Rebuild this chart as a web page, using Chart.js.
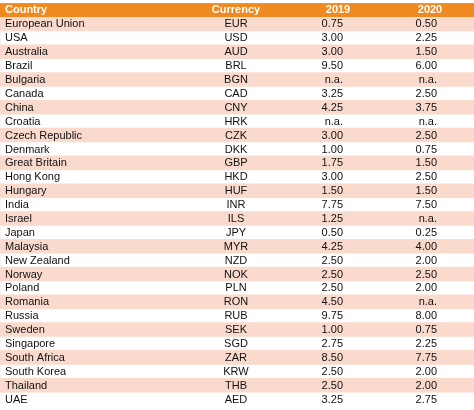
<!DOCTYPE html>
<html>
<head>
<meta charset="utf-8">
<script src="https://cdn.jsdelivr.net/npm/chart.js@4/dist/chart.umd.min.js"></script>
<style>
  html, body { margin: 0; padding: 0; background: #fff; }
  #wrap { width: 474px; height: 410px; }
</style>
</head>
<body>
<div id="wrap"><canvas id="tableChart"></canvas></div>
<script>
const headers = ['Country', 'Currency', '2019', '2020'];
const countries = ['European Union', 'USA', 'Australia', 'Brazil', 'Bulgaria', 'Canada', 'China', 'Croatia',
  'Czech Republic', 'Denmark', 'Great Britain', 'Hong Kong', 'Hungary', 'India', 'Israel', 'Japan',
  'Malaysia', 'New Zealand', 'Norway', 'Poland', 'Romania', 'Russia', 'Sweden', 'Singapore',
  'South Africa', 'South Korea', 'Thailand', 'UAE'];
const currencies = ['EUR', 'USD', 'AUD', 'BRL', 'BGN', 'CAD', 'CNY', 'HRK', 'CZK', 'DKK', 'GBP', 'HKD',
  'HUF', 'INR', 'ILS', 'JPY', 'MYR', 'NZD', 'NOK', 'PLN', 'RON', 'RUB', 'SEK', 'SGD', 'ZAR', 'KRW', 'THB', 'AED'];
const values2019 = ['0.75', '3.00', '3.00', '9.50', 'n.a.', '3.25', '4.25', 'n.a.', '3.00', '1.00', '1.75', '3.00',
  '1.50', '7.75', '1.25', '0.50', '4.25', '2.50', '2.50', '2.50', '4.50', '9.75', '1.00', '2.75', '8.50', '2.50', '2.50', '3.25'];
const values2020 = ['0.50', '2.25', '1.50', '6.00', 'n.a.', '2.50', '3.75', 'n.a.', '2.50', '0.75', '1.50', '2.50',
  '1.50', '7.50', 'n.a.', '0.25', '4.00', '2.00', '2.50', '2.00', 'n.a.', '8.00', '0.75', '2.25', '7.75', '2.00', '2.00', '2.75'];

const font = '11px "Liberation Sans", Arial, sans-serif';
const boldFont = 'bold 11px "Liberation Sans", Arial, sans-serif';

const tablePlugin = {
  id: 'tableText',
  afterDatasetsDraw(chart) {
    const ctx = chart.ctx;
    const area = chart.chartArea;
    const yScale = chart.scales.y;
    const rowH = yScale.getPixelForValue(1) - yScale.getPixelForValue(0);
    const cols = [
      { x: 5, align: 'left' },
      { x: 236, align: 'center' },
      { x: 343, align: 'right' },
      { x: 437, align: 'right' }
    ];
    const headCols = [
      { x: 5, align: 'left' },
      { x: 236, align: 'center' },
      { x: 338, align: 'center' },
      { x: 430, align: 'center' }
    ];
    ctx.save();
    // header band
    ctx.fillStyle = '#ee8a1f';
    ctx.fillRect(0, area.top - rowH, chart.width, rowH);
    ctx.font = boldFont;
    ctx.fillStyle = '#ffffff';
    ctx.textBaseline = 'middle';
    headers.forEach((h, i) => {
      ctx.textAlign = headCols[i].align;
      ctx.fillText(h, headCols[i].x, area.top - rowH / 2);
    });
    ctx.font = font;
    ctx.fillStyle = '#111111';
    countries.forEach((c, r) => {
      const y = yScale.getPixelForValue(r) + 0.5;
      const cells = [c, currencies[r], values2019[r], values2020[r]];
      cells.forEach((t, i) => {
        ctx.textAlign = cols[i].align;
        ctx.fillText(t, cols[i].x, y);
      });
    });
    ctx.restore();
  }
};

new Chart(document.getElementById('tableChart'), {
  type: 'bar',
  data: {
    labels: countries,
    datasets: [{
      data: countries.map((c, i) => (i % 2 === 0 ? 1 : 0)),
      backgroundColor: '#fadacd',
      borderWidth: 0,
      barPercentage: 1,
      categoryPercentage: 1
    }]
  },
  options: {
    indexAxis: 'y',
    responsive: true,
    maintainAspectRatio: false,
    animation: false,
    layout: { padding: { top: 17, bottom: 4, left: 0, right: 0 } },
    plugins: { legend: { display: false }, tooltip: { enabled: false } },
    scales: {
      x: { display: false, min: 0, max: 1 },
      y: { display: false }
    }
  },
  plugins: [tablePlugin]
});
</script>
</body>
</html>
